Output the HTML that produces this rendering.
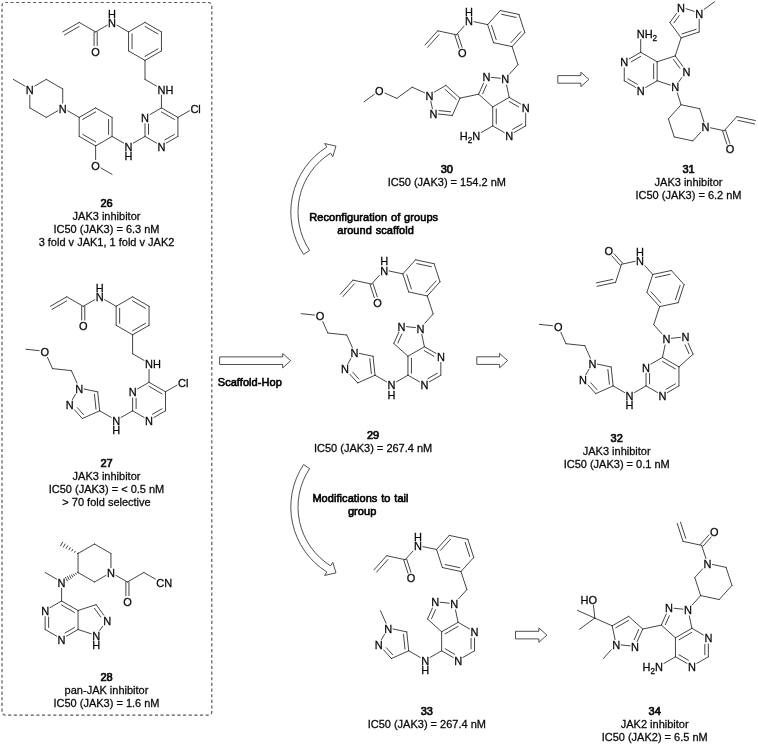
<!DOCTYPE html>
<html lang="en">
<head>
<meta charset="utf-8">
<title>JAK3 inhibitor scaffold-hop scheme</title>
<style>
html,body{margin:0;padding:0;background:#fff;}
body{width:758px;height:745px;overflow:hidden;font-family:"Liberation Sans",Arial,Helvetica,sans-serif;}
svg{display:block;will-change:transform;transform:translateZ(0);}
.bonds{stroke:#242424;stroke-width:0.85;fill:none;stroke-linecap:round;stroke-linejoin:miter;}
.bonds text{stroke:#0a0a0a;stroke-width:0.28;fill:#0a0a0a;font-size:11px;font-family:"Liberation Sans",Arial,sans-serif;}
.arrows{stroke:#242424;stroke-width:0.8;stroke-linejoin:miter;}
.caps text{font-size:11px;text-anchor:middle;fill:#0a0a0a;stroke:#0a0a0a;stroke-width:0.28;font-family:"Liberation Sans",Arial,sans-serif;}
.caps text.num{stroke-width:0.7;}
.semi text{font-size:11px;text-anchor:middle;fill:#000;stroke:#000;stroke-width:0.6;letter-spacing:0.06px;word-spacing:0.7px;font-family:"Liberation Sans",Arial,sans-serif;}
</style>
</head>
<body>
<svg width="758" height="745" viewBox="0 0 758 745">
<rect x="2.0" y="2.5" width="209.8" height="712.7" rx="3.3" ry="3.3" fill="none" stroke="#5a5a5a" stroke-width="1.2" stroke-dasharray="3.1500 2.4921" stroke-dashoffset="0.5"/>
<g class="bonds">
<path d="M145 22.4L128.55 31.9"/>
<path d="M128.55 31.9L128.55 50.9"/>
<path d="M132.05 33.92L132.05 48.88"/>
<path d="M128.55 50.9L145 60.4"/>
<path d="M145 60.4L161.45 50.9"/>
<path d="M145 56.36L157.95 48.88"/>
<path d="M161.45 50.9L161.45 31.9"/>
<path d="M161.45 31.9L145 22.4"/>
<path d="M157.95 33.92L145 26.44"/>
<path d="M128.55 31.9L117 25.24"/>
<path d="M107.18 25.24L95.64 31.9"/>
<path d="M94.09 31.9L94.09 45.63"/>
<path d="M97.19 31.9L97.19 45.63"/>
<path d="M95.64 31.9L79.18 22.4"/>
<path d="M79.18 22.4L62.73 31.9"/>
<path d="M79.18 26.44L64.48 34.93"/>
<path d="M145 60.4L145 79.4"/>
<path d="M145 79.4L156.54 86.06"/>
<path d="M161.45 107.9L149.91 114.56"/>
<path d="M145 123.64L145 136.4"/>
<path d="M148.5 123.94L148.5 134.38"/>
<path d="M145 136.4L156.54 143.06"/>
<path d="M166.37 143.06L177.91 136.4"/>
<path d="M164.88 139.88L174.41 134.38"/>
<path d="M177.91 136.4L177.91 117.4"/>
<path d="M177.91 117.4L161.45 107.9"/>
<path d="M174.41 119.42L161.45 111.94"/>
<path d="M177.91 117.4L189.45 110.74"/>
<path d="M161.45 95.14L161.45 107.9"/>
<path d="M145 136.4L133.46 143.06"/>
<path d="M112.09 136.4L112.09 117.4"/>
<path d="M108.59 134.38L108.59 119.42"/>
<path d="M112.09 117.4L95.64 107.9"/>
<path d="M95.64 107.9L79.18 117.4"/>
<path d="M95.64 111.94L82.68 119.42"/>
<path d="M79.18 117.4L79.18 136.4"/>
<path d="M79.18 136.4L95.64 145.9"/>
<path d="M82.68 134.38L95.64 141.86"/>
<path d="M95.64 145.9L112.09 136.4"/>
<path d="M123.63 143.06L112.09 136.4"/>
<path d="M95.64 145.9L95.64 159.63"/>
<path d="M100.92 167.95L112.09 174.4"/>
<path d="M79.18 117.4L67.64 110.74"/>
<path d="M62.73 103.06L62.73 88.9"/>
<path d="M62.73 88.9L46.27 79.4"/>
<path d="M46.27 79.4L34.73 86.06"/>
<path d="M29.82 95.14L29.82 107.9"/>
<path d="M29.82 107.9L46.27 117.4"/>
<path d="M46.27 117.4L57.82 110.74"/>
<path d="M24.91 86.06L13.36 79.4"/>
<text x="108.12" y="27.04">N</text>
<text x="108.12" y="17.64">H</text>
<text x="91.36" y="55.54">O</text>
<text x="157.48" y="93.54">NH</text>
<text x="141.03" y="122.04">N</text>
<text x="157.48" y="150.54">N</text>
<text x="190.39" y="112.54">Cl</text>
<text x="124.57" y="150.54">N</text>
<text x="124.57" y="159.94">H</text>
<text x="91.36" y="169.54">O</text>
<text x="58.76" y="112.54">N</text>
<text x="25.85" y="93.54">N</text>
<path d="M132.6 296.8L116.15 306.3"/>
<path d="M116.15 306.3L116.15 325.3"/>
<path d="M119.65 308.32L119.65 323.28"/>
<path d="M116.15 325.3L132.6 334.8"/>
<path d="M132.6 334.8L149.05 325.3"/>
<path d="M132.6 330.76L145.55 323.28"/>
<path d="M149.05 325.3L149.05 306.3"/>
<path d="M149.05 306.3L132.6 296.8"/>
<path d="M145.55 308.32L132.6 300.84"/>
<path d="M116.15 306.3L104.6 299.64"/>
<path d="M94.78 299.64L83.24 306.3"/>
<path d="M81.69 306.3L81.69 320.03"/>
<path d="M84.79 306.3L84.79 320.03"/>
<path d="M83.24 306.3L66.78 296.8"/>
<path d="M66.78 296.8L50.33 306.3"/>
<path d="M66.78 300.84L52.08 309.33"/>
<path d="M132.6 334.8L132.6 353.8"/>
<path d="M132.6 353.8L144.14 360.46"/>
<path d="M149.05 382.3L137.51 388.96"/>
<path d="M132.6 398.04L132.6 410.8"/>
<path d="M136.1 398.34L136.1 408.78"/>
<path d="M132.6 410.8L144.14 417.46"/>
<path d="M153.97 417.46L165.51 410.8"/>
<path d="M152.48 414.28L162.01 408.78"/>
<path d="M165.51 410.8L165.51 391.8"/>
<path d="M165.51 391.8L149.05 382.3"/>
<path d="M162.01 393.82L149.05 386.34"/>
<path d="M165.51 391.8L177.05 385.14"/>
<path d="M149.05 369.54L149.05 382.3"/>
<path d="M132.6 410.8L121.06 417.46"/>
<path d="M99.69 410.8L97.7 391.9"/>
<path d="M96 409.16L94.44 394.28"/>
<path d="M97.7 391.9L84.03 389"/>
<path d="M75.52 394.19L72.41 399.57"/>
<path d="M74.53 409.86L82.33 418.53"/>
<path d="M77.33 407.74L83.58 414.68"/>
<path d="M82.33 418.53L99.69 410.8"/>
<path d="M76.97 383.12L71.39 370.6"/>
<path d="M71.39 370.6L52.5 368.61"/>
<path d="M52.5 368.61L47.43 357.24"/>
<path d="M39.15 350.66L25.87 349.27"/>
<path d="M111.23 417.46L99.69 410.8"/>
<text x="95.72" y="301.44">N</text>
<text x="95.72" y="292.04">H</text>
<text x="78.96" y="329.94">O</text>
<text x="145.08" y="367.94">NH</text>
<text x="128.63" y="396.44">N</text>
<text x="145.08" y="424.94">N</text>
<text x="177.99" y="386.94">Cl</text>
<text x="112.17" y="424.94">N</text>
<text x="112.17" y="434.34">H</text>
<text x="75.15" y="392.59">N</text>
<text x="65.65" y="409.05">N</text>
<text x="40.49" y="355.89">O</text>
<path d="M94.5 544L78.05 553.5"/>
<path d="M78.05 553.5L78.05 572.5"/>
<path d="M78.05 572.5L94.5 582"/>
<path d="M94.5 582L106.04 575.34"/>
<path d="M110.95 567.66L110.95 553.5"/>
<path d="M110.95 553.5L94.5 544"/>
<path d="M77.47 553.57L77.82 552.97"/>
<path d="M74.65 552.27L75.29 551.17"/>
<path d="M71.83 550.98L72.76 549.37"/>
<path d="M69.01 549.69L70.23 547.58"/>
<path d="M66.18 548.4L67.7 545.78"/>
<path d="M63.36 547.11L65.17 543.98"/>
<path d="M60.54 545.82L62.64 542.18"/>
<path d="M77.94 572.96L77.59 572.36"/>
<path d="M76.21 574.3L75.57 573.19"/>
<path d="M74.47 575.63L73.55 574.03"/>
<path d="M72.74 576.97L71.52 574.86"/>
<path d="M71.01 578.31L69.5 575.69"/>
<path d="M69.28 579.65L67.48 576.52"/>
<path d="M67.55 580.98L65.45 577.35"/>
<path d="M56.68 579.16L45.14 572.5"/>
<path d="M61.59 588.24L61.59 601"/>
<path d="M61.59 601L50.05 607.66"/>
<path d="M45.14 616.74L45.14 629.5"/>
<path d="M48.64 617.04L48.64 627.48"/>
<path d="M45.14 629.5L56.68 636.16"/>
<path d="M66.5 636.16L78.05 629.5"/>
<path d="M65.01 632.98L74.55 627.48"/>
<path d="M78.05 629.5L78.05 610.5"/>
<path d="M78.05 610.5L61.59 601"/>
<path d="M74.55 612.52L61.59 605.04"/>
<path d="M78.05 629.5L91.2 633.78"/>
<path d="M99.63 630.53L102.75 626.24"/>
<path d="M103.77 615.16L96.12 604.63"/>
<path d="M100.76 616.98L94.47 608.32"/>
<path d="M96.12 604.63L78.05 610.5"/>
<path d="M115.87 575.34L127.41 582"/>
<path d="M125.86 582L125.86 595.73"/>
<path d="M128.96 582L128.96 595.73"/>
<path d="M127.41 582L143.86 572.5"/>
<path d="M143.86 572.5L155.41 579.16"/>
<text x="106.98" y="577.14">N</text>
<text x="57.62" y="586.64">N</text>
<text x="41.17" y="615.14">N</text>
<text x="57.62" y="643.64">N</text>
<text x="92.14" y="640.01">N</text>
<text x="92.14" y="649.41">H</text>
<text x="103.31" y="624.64">N</text>
<text x="123.13" y="605.64">O</text>
<text x="156.35" y="586.64">CN</text>
<path d="M424.4 346.7L435.94 353.36"/>
<path d="M424.4 350.74L433.93 356.25"/>
<path d="M440.85 362.44L440.85 375.2"/>
<path d="M440.85 375.2L429.31 381.86"/>
<path d="M437.35 373.18L427.82 378.68"/>
<path d="M419.49 381.86L407.95 375.2"/>
<path d="M407.95 375.2L407.95 356.2"/>
<path d="M411.45 373.18L411.45 358.22"/>
<path d="M407.95 356.2L424.4 346.7"/>
<path d="M424.4 346.7L421.78 334.35"/>
<path d="M415.54 327.6L406.46 326.65"/>
<path d="M398.78 332.37L393.83 343.49"/>
<path d="M401.85 334.06L397.85 343.06"/>
<path d="M393.83 343.49L407.95 356.2"/>
<path d="M424.81 323.28L433.16 314"/>
<path d="M433.16 314L427.29 295.93"/>
<path d="M427.29 295.93L440.01 281.81"/>
<path d="M426.04 292.08L436.05 280.97"/>
<path d="M440.01 281.81L434.13 263.74"/>
<path d="M434.13 263.74L415.55 259.79"/>
<path d="M431.43 266.74L416.8 263.63"/>
<path d="M415.55 259.79L402.84 273.9"/>
<path d="M402.84 273.9L408.71 291.98"/>
<path d="M406.79 274.75L411.41 288.97"/>
<path d="M408.71 291.98L427.29 295.93"/>
<path d="M402.84 273.9L389.16 271"/>
<path d="M379.34 275.41L371.54 284.07"/>
<path d="M370.06 284.55L374.3 297.6"/>
<path d="M373.01 283.6L377.25 296.64"/>
<path d="M371.54 284.07L352.95 280.12"/>
<path d="M352.95 280.12L340.24 294.24"/>
<path d="M354.2 283.97L342.84 296.59"/>
<path d="M407.95 375.2L396.4 381.86"/>
<path d="M375.04 375.2L373.05 356.3"/>
<path d="M371.34 373.56L369.78 358.68"/>
<path d="M373.05 356.3L359.38 353.4"/>
<path d="M350.86 358.59L347.76 363.97"/>
<path d="M349.88 374.26L357.68 382.93"/>
<path d="M352.68 372.14L358.93 379.08"/>
<path d="M357.68 382.93L375.04 375.2"/>
<path d="M352.31 347.52L346.74 335"/>
<path d="M346.74 335L327.84 333.01"/>
<path d="M327.84 333.01L322.78 321.64"/>
<path d="M314.5 315.06L301.22 313.67"/>
<path d="M386.58 381.86L375.04 375.2"/>
<text x="420.43" y="389.34">N</text>
<text x="436.88" y="360.84">N</text>
<text x="416.48" y="332.75">N</text>
<text x="397.58" y="330.77">N</text>
<text x="380.28" y="274.59">N</text>
<text x="380.28" y="265.19">H</text>
<text x="373.13" y="306.78">O</text>
<text x="387.52" y="389.34">N</text>
<text x="387.52" y="398.74">H</text>
<text x="350.49" y="356.99">N</text>
<text x="340.99" y="373.45">N</text>
<text x="315.83" y="320.29">O</text>
<path d="M509.2 97.4L520.74 104.06"/>
<path d="M509.2 101.44L518.73 106.95"/>
<path d="M525.65 113.14L525.65 125.9"/>
<path d="M525.65 125.9L514.11 132.56"/>
<path d="M522.15 123.88L512.62 129.38"/>
<path d="M504.29 132.56L492.75 125.9"/>
<path d="M492.75 125.9L492.75 106.9"/>
<path d="M496.25 123.88L496.25 108.92"/>
<path d="M492.75 106.9L509.2 97.4"/>
<path d="M509.2 97.4L506.58 85.05"/>
<path d="M500.34 78.3L491.26 77.35"/>
<path d="M483.58 83.07L478.63 94.19"/>
<path d="M486.65 84.76L482.65 93.76"/>
<path d="M478.63 94.19L492.75 106.9"/>
<path d="M509.61 73.98L517.96 64.7"/>
<path d="M517.96 64.7L512.09 46.63"/>
<path d="M512.09 46.63L524.81 32.51"/>
<path d="M510.84 42.78L520.85 31.67"/>
<path d="M524.81 32.51L518.93 14.44"/>
<path d="M518.93 14.44L500.35 10.49"/>
<path d="M516.23 17.44L501.6 14.33"/>
<path d="M500.35 10.49L487.64 24.6"/>
<path d="M487.64 24.6L493.51 42.68"/>
<path d="M491.59 25.45L496.21 39.67"/>
<path d="M493.51 42.68L512.09 46.63"/>
<path d="M487.64 24.6L473.96 21.7"/>
<path d="M464.14 26.11L456.34 34.77"/>
<path d="M454.86 35.25L459.1 48.3"/>
<path d="M457.81 34.3L462.05 47.34"/>
<path d="M456.34 34.77L437.75 30.82"/>
<path d="M437.75 30.82L425.04 44.94"/>
<path d="M439 34.67L427.64 47.29"/>
<path d="M492.75 125.9L481.2 132.56"/>
<path d="M460.04 98.14L445.92 85.42"/>
<path d="M456.2 99.39L445.08 89.38"/>
<path d="M445.92 85.42L434.38 92.09"/>
<path d="M430.79 101.16L432.39 108.67"/>
<path d="M438.33 114.02L452.31 115.49"/>
<path d="M438.99 110.57L450.67 111.8"/>
<path d="M452.31 115.49L460.04 98.14"/>
<path d="M424.56 92.74L412.11 87.2"/>
<path d="M412.11 87.2L396.74 98.36"/>
<path d="M396.74 98.36L384.88 93.08"/>
<path d="M374.37 94.27L364.01 101.8"/>
<path d="M478.63 94.19L460.04 98.14"/>
<text x="505.23" y="140.04">N</text>
<text x="521.68" y="111.54">N</text>
<text x="501.28" y="83.45">N</text>
<text x="482.38" y="81.47">N</text>
<text x="465.08" y="25.29">N</text>
<text x="465.08" y="15.89">H</text>
<text x="457.93" y="57.48">O</text>
<text x="459.79" y="140.04">H<tspan dy="2.6" style="font-size:8.25px">2</tspan><tspan dy="-2.6">N</tspan></text>
<text x="425.5" y="99.56">N</text>
<text x="429.45" y="118.15">N</text>
<text x="375.1" y="95.27">O</text>
<path d="M640.7 52.3L629.16 58.96"/>
<path d="M640.7 56.34L631.17 61.85"/>
<path d="M624.25 68.04L624.25 80.8"/>
<path d="M624.25 80.8L635.79 87.46"/>
<path d="M627.75 78.78L637.28 84.28"/>
<path d="M645.61 87.46L657.15 80.8"/>
<path d="M657.15 80.8L657.15 61.8"/>
<path d="M653.65 78.78L653.65 63.82"/>
<path d="M657.15 61.8L640.7 52.3"/>
<path d="M657.15 80.8L670.31 85.08"/>
<path d="M678.74 81.83L681.86 77.54"/>
<path d="M682.88 66.46L675.22 55.93"/>
<path d="M679.87 68.28L673.58 59.62"/>
<path d="M675.22 55.93L657.15 61.8"/>
<path d="M640.7 52.3L640.7 39.54"/>
<path d="M675.22 55.93L681.1 37.86"/>
<path d="M681.1 37.86L699.17 31.99"/>
<path d="M681.94 33.91L696.16 29.28"/>
<path d="M699.17 31.99L699.17 19.23"/>
<path d="M694.25 11.39L686.01 8.71"/>
<path d="M676.56 13.35L669.93 22.49"/>
<path d="M679.22 15.65L673.95 22.91"/>
<path d="M669.93 22.49L681.1 37.86"/>
<path d="M704.08 9.42L714.54 1.82"/>
<path d="M677.25 92.91L681.1 104.74"/>
<path d="M681.1 104.74L668.38 118.86"/>
<path d="M668.38 118.86L674.25 136.93"/>
<path d="M674.25 136.93L692.84 140.88"/>
<path d="M692.84 140.88L700.64 132.22"/>
<path d="M703.98 121.92L699.68 108.69"/>
<path d="M699.68 108.69L681.1 104.74"/>
<path d="M710.46 127.81L724.14 130.71"/>
<path d="M722.66 131.19L726.9 144.24"/>
<path d="M725.61 130.23L729.85 143.28"/>
<path d="M724.14 130.71L736.85 116.59"/>
<path d="M736.85 116.59L755.44 120.54"/>
<path d="M738.1 120.44L754.71 123.97"/>
<text x="620.27" y="66.44">N</text>
<text x="636.73" y="94.94">N</text>
<text x="671.25" y="91.31">N</text>
<text x="682.42" y="75.94">N</text>
<text x="636.73" y="37.94">NH<tspan dy="2.6" style="font-size:8.25px">2</tspan></text>
<text x="695.19" y="17.63">N</text>
<text x="677.12" y="11.75">N</text>
<text x="701.58" y="131.4">N</text>
<text x="725.73" y="153.42">O</text>
<path d="M662.5 357.4L650.96 364.06"/>
<path d="M646.05 373.14L646.05 385.9"/>
<path d="M649.55 373.44L649.55 383.88"/>
<path d="M646.05 385.9L657.59 392.56"/>
<path d="M667.41 392.56L678.95 385.9"/>
<path d="M665.92 389.38L675.45 383.88"/>
<path d="M678.95 385.9L678.95 366.9"/>
<path d="M678.95 366.9L662.5 357.4"/>
<path d="M675.45 368.92L662.5 361.44"/>
<path d="M678.95 366.9L693.07 354.19"/>
<path d="M693.07 354.19L688.12 343.07"/>
<path d="M689.05 353.76L685.05 344.76"/>
<path d="M680.44 337.35L671.36 338.3"/>
<path d="M665.12 345.05L662.5 357.4"/>
<path d="M662.09 333.98L653.74 324.7"/>
<path d="M653.74 324.7L659.61 306.63"/>
<path d="M659.61 306.63L678.19 302.68"/>
<path d="M678.19 302.68L684.06 284.6"/>
<path d="M675.49 299.67L680.11 285.45"/>
<path d="M684.06 284.6L671.35 270.49"/>
<path d="M671.35 270.49L652.77 274.44"/>
<path d="M670.1 274.33L655.47 277.44"/>
<path d="M652.77 274.44L646.89 292.51"/>
<path d="M646.89 292.51L659.61 306.63"/>
<path d="M650.85 291.67L660.86 302.78"/>
<path d="M652.77 274.44L644.96 265.77"/>
<path d="M635.14 261.36L621.47 264.27"/>
<path d="M622.62 263.23L614.16 253.83"/>
<path d="M620.32 265.3L611.85 255.9"/>
<path d="M621.47 264.27L615.6 282.34"/>
<path d="M615.6 282.34L597.01 286.29"/>
<path d="M612.89 279.33L596.28 282.86"/>
<path d="M646.05 385.9L634.5 392.56"/>
<path d="M613.14 385.9L611.15 367"/>
<path d="M609.44 384.26L607.88 369.38"/>
<path d="M611.15 367L597.48 364.1"/>
<path d="M588.96 369.29L585.86 374.67"/>
<path d="M587.98 384.96L595.78 393.63"/>
<path d="M590.78 382.84L597.03 389.78"/>
<path d="M595.78 393.63L613.14 385.9"/>
<path d="M590.41 358.22L584.84 345.7"/>
<path d="M584.84 345.7L565.94 343.71"/>
<path d="M565.94 343.71L560.88 332.34"/>
<path d="M552.6 325.76L539.32 324.37"/>
<path d="M624.68 392.56L613.14 385.9"/>
<text x="642.07" y="371.54">N</text>
<text x="658.53" y="400.04">N</text>
<text x="681.38" y="341.47">N</text>
<text x="662.48" y="343.45">N</text>
<text x="636.08" y="264.95">N</text>
<text x="636.08" y="255.55">H</text>
<text x="604.48" y="254.78">O</text>
<text x="625.62" y="400.04">N</text>
<text x="625.62" y="409.44">H</text>
<text x="588.59" y="367.69">N</text>
<text x="579.09" y="384.15">N</text>
<text x="553.93" y="330.99">O</text>
<path d="M458.1 622.3L469.64 628.96"/>
<path d="M474.55 638.04L474.55 650.8"/>
<path d="M471.05 638.34L471.05 648.78"/>
<path d="M474.55 650.8L463.01 657.46"/>
<path d="M453.19 657.46L441.65 650.8"/>
<path d="M454.68 654.28L445.15 648.78"/>
<path d="M441.65 650.8L441.65 631.8"/>
<path d="M441.65 631.8L458.1 622.3"/>
<path d="M445.15 633.82L458.1 626.34"/>
<path d="M458.1 622.3L455.48 609.95"/>
<path d="M449.24 603.2L440.16 602.25"/>
<path d="M432.48 607.97L427.53 619.09"/>
<path d="M435.55 609.66L431.55 618.66"/>
<path d="M427.53 619.09L441.65 631.8"/>
<path d="M458.51 598.88L466.86 589.6"/>
<path d="M466.86 589.6L460.99 571.53"/>
<path d="M460.99 571.53L473.71 557.41"/>
<path d="M473.71 557.41L467.83 539.34"/>
<path d="M469.75 556.57L465.13 542.34"/>
<path d="M467.83 539.34L449.25 535.39"/>
<path d="M449.25 535.39L436.54 549.5"/>
<path d="M450.5 539.23L440.49 550.35"/>
<path d="M436.54 549.5L442.41 567.58"/>
<path d="M442.41 567.58L460.99 571.53"/>
<path d="M445.11 564.57L459.74 567.68"/>
<path d="M436.54 549.5L422.86 546.6"/>
<path d="M413.04 551.01L405.24 559.67"/>
<path d="M403.76 560.15L408 573.2"/>
<path d="M406.71 559.2L410.95 572.24"/>
<path d="M405.24 559.67L386.65 555.72"/>
<path d="M386.65 555.72L373.94 569.84"/>
<path d="M387.9 559.57L376.54 572.19"/>
<path d="M441.65 650.8L430.1 657.46"/>
<path d="M408.74 650.8L406.75 631.9"/>
<path d="M405.04 649.16L403.48 634.28"/>
<path d="M406.75 631.9L393.08 629"/>
<path d="M384.56 634.19L381.46 639.57"/>
<path d="M383.58 649.86L391.38 658.53"/>
<path d="M386.38 647.74L392.63 654.68"/>
<path d="M391.38 658.53L408.74 650.8"/>
<path d="M386.01 623.12L380.44 610.6"/>
<path d="M420.28 657.46L408.74 650.8"/>
<text x="454.13" y="664.94">N</text>
<text x="470.58" y="636.44">N</text>
<text x="450.18" y="608.35">N</text>
<text x="431.28" y="606.37">N</text>
<text x="413.98" y="550.19">N</text>
<text x="413.98" y="540.79">H</text>
<text x="406.83" y="582.38">O</text>
<text x="421.22" y="664.94">N</text>
<text x="421.22" y="674.34">H</text>
<text x="384.19" y="632.59">N</text>
<text x="374.69" y="649.05">N</text>
<path d="M691.9 628.3L703.44 634.96"/>
<path d="M708.35 644.04L708.35 656.8"/>
<path d="M704.85 644.34L704.85 654.78"/>
<path d="M708.35 656.8L696.81 663.46"/>
<path d="M686.99 663.46L675.45 656.8"/>
<path d="M688.48 660.28L678.95 654.78"/>
<path d="M675.45 656.8L675.45 637.8"/>
<path d="M675.45 637.8L691.9 628.3"/>
<path d="M678.95 639.82L691.9 632.34"/>
<path d="M691.9 628.3L689.28 615.95"/>
<path d="M683.04 609.2L673.96 608.25"/>
<path d="M666.28 613.97L661.33 625.09"/>
<path d="M669.35 615.66L665.35 624.66"/>
<path d="M661.33 625.09L675.45 637.8"/>
<path d="M675.45 656.8L663.9 663.46"/>
<path d="M661.33 625.09L642.74 629.04"/>
<path d="M642.74 629.04L628.62 616.32"/>
<path d="M628.62 616.32L612.17 625.82"/>
<path d="M628.62 620.36L615.67 627.84"/>
<path d="M612.17 625.82L615.09 639.57"/>
<path d="M621.03 644.92L630.1 645.88"/>
<path d="M637.17 641.56L642.74 629.04"/>
<path d="M634.09 639.86L638.72 629.46"/>
<path d="M611.21 649.86L603.4 658.53"/>
<path d="M612.17 625.82L594.81 618.1"/>
<path d="M594.81 618.1L593.48 605.44"/>
<path d="M594.81 618.1L577.45 610.37"/>
<path d="M594.81 618.1L579.44 629.26"/>
<path d="M692.31 604.88L700.66 595.6"/>
<path d="M700.66 595.6L719.25 599.55"/>
<path d="M719.25 599.55L731.96 585.43"/>
<path d="M731.96 585.43L726.09 567.36"/>
<path d="M726.09 567.36L712.42 564.45"/>
<path d="M702.59 568.86L694.79 577.53"/>
<path d="M694.79 577.53L700.66 595.6"/>
<path d="M705.93 558.57L701.63 545.34"/>
<path d="M702.79 546.37L711.25 536.97"/>
<path d="M700.48 544.3L708.95 534.9"/>
<path d="M701.63 545.34L683.05 541.39"/>
<path d="M683.05 541.39L677.18 523.32"/>
<path d="M685.75 538.38L680.51 522.23"/>
<text x="687.93" y="670.94">N</text>
<text x="704.38" y="642.44">N</text>
<text x="683.98" y="614.35">N</text>
<text x="665.08" y="612.37">N</text>
<text x="642.49" y="670.94">H<tspan dy="2.6" style="font-size:8.25px">2</tspan><tspan dy="-2.6">N</tspan></text>
<text x="612.15" y="649.05">N</text>
<text x="631.04" y="651.03">N</text>
<text x="580.6" y="603.84">HO</text>
<text x="703.53" y="568.04">N</text>
<text x="710.07" y="535.85">O</text>
</g>
<g class="arrows">
<polygon points="219.6,356.9 282.7,356.9 282.7,353.5 290.7,360.7 282.7,367.9 282.7,364.5 219.6,364.5" fill="#fff"/>
<polygon points="557.8,75.6 580.9,75.6 580.9,72.2 588.9,79.4 580.9,86.6 580.9,83.2 557.8,83.2" fill="#fff"/>
<polygon points="476.8,356.8 499.6,356.8 499.6,353.4 507.6,360.6 499.6,367.8 499.6,364.4 476.8,364.4" fill="#fff"/>
<polygon points="515.5,631.3 538.9,631.3 538.9,627.9 546.9,635.1 538.9,642.3 538.9,638.9 515.5,638.9" fill="#fff"/>
<path d="M303.6 254.39A76.6 76.6 0 0 1 326.81 147.04L324.64 143.56L335.97 146.11L332.8 156.62L330.62 153.15A69.4 69.4 0 0 0 309.6 250.41Z" fill="#fff"/>
<path d="M303.6 464.61A76.6 76.6 0 0 0 326.81 571.96L324.64 575.44L335.97 572.89L332.8 562.38L330.62 565.85A69.4 69.4 0 0 1 309.6 468.59Z" fill="#fff"/>
</g>
<g class="caps">
<text x="106.5" y="206.7" class="num">26</text>
<text x="106.5" y="219.75">JAK3 inhibitor</text>
<text x="106.5" y="232.8">IC50 (JAK3) = 6.3 nM</text>
<text x="106.5" y="245.85">3 fold v JAK1, 1 fold v JAK2</text>
<text x="106.5" y="466.5" class="num">27</text>
<text x="106.5" y="479.55">JAK3 inhibitor</text>
<text x="106.5" y="492.6">IC50 (JAK3) = &lt; 0.5 nM</text>
<text x="106.5" y="505.65">&gt; 70 fold selective</text>
<text x="106.5" y="681.3" class="num">28</text>
<text x="106.5" y="694.35">pan-JAK inhibitor</text>
<text x="106.5" y="707.4">IC50 (JAK3) = 1.6 nM</text>
<text x="373.1" y="439.4" class="num">29</text>
<text x="373.1" y="452.45">IC50 (JAK3) = 267.4 nM</text>
<text x="446.8" y="172.7" class="num">30</text>
<text x="446.8" y="185.75">IC50 (JAK3) = 154.2 nM</text>
<text x="688.5" y="173" class="num">31</text>
<text x="688.5" y="186.05">JAK3 inhibitor</text>
<text x="688.5" y="199.1">IC50 (JAK3) = 6.2 nM</text>
<text x="616.7" y="441.8" class="num">32</text>
<text x="616.7" y="454.85">JAK3 inhibitor</text>
<text x="616.7" y="467.9">IC50 (JAK3) = 0.1 nM</text>
<text x="426.8" y="714.5" class="num">33</text>
<text x="426.8" y="727.55">IC50 (JAK3) = 267.4 nM</text>
<text x="654.7" y="715.3" class="num">34</text>
<text x="654.7" y="728.35">JAK2 inhibitor</text>
<text x="654.7" y="741.4">IC50 (JAK2) = 6.5 nM</text>
</g>
<g class="semi">
<text x="373.7" y="220.7">Reconfiguration of groups</text>
<text x="375.6" y="233.8">around scaffold</text>
<text x="249.8" y="385.6">Scaffold-Hop</text>
<text x="360.5" y="502.2">Modifications to tail</text>
<text x="362.1" y="515.4">group</text>
</g>
</svg>
</body>
</html>
